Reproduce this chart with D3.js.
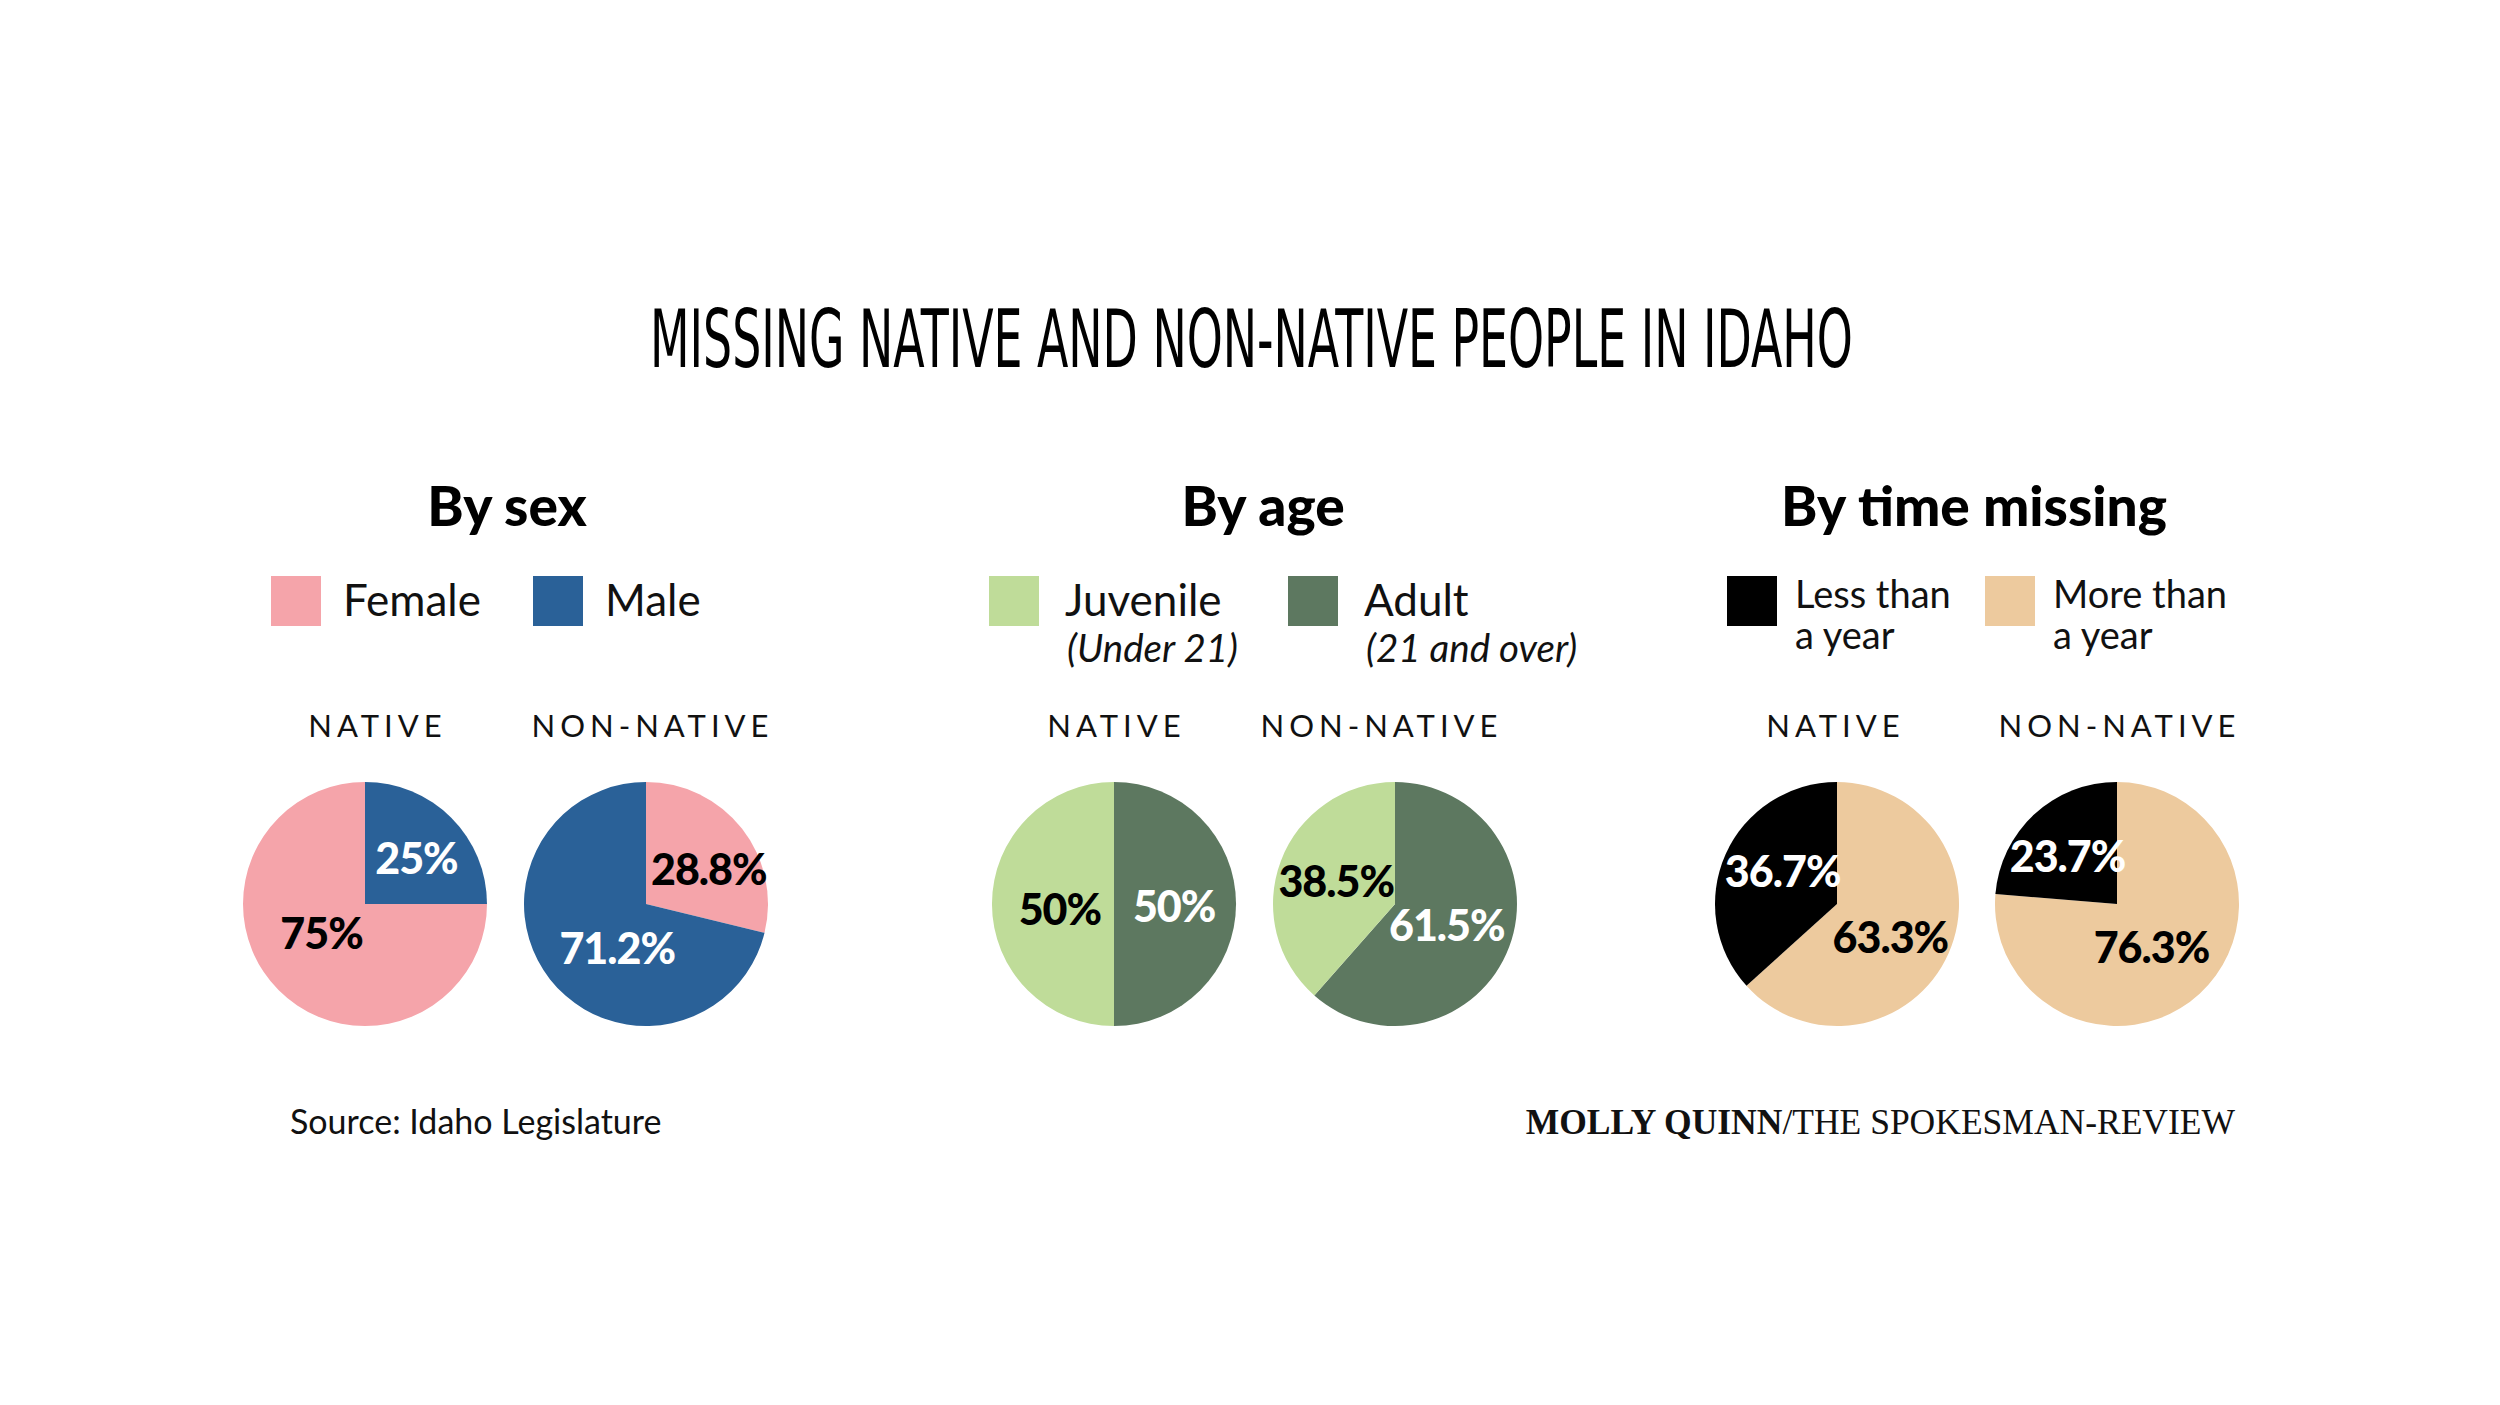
<!DOCTYPE html>
<html>
<head>
<meta charset="utf-8">
<script src="https://cdn.jsdelivr.net/npm/d3@7"></script>
<style>
  body { margin: 0; background: #fff; }
  svg { display: block; }
</style>
</head>
<body>
<div id="chart"></div>
<script>
// data
var title = "MISSING NATIVE AND NON-NATIVE PEOPLE IN IDAHO";
var groupTitles = ["By sex", "By age", "By time missing"];
var pieTitles = ["NATIVE", "NON-NATIVE"];

var sexCats = ["Female", "Male"];
var sexNative = [75, 25];
var sexNonNative = [28.8, 71.2];

var ageCats = ["Juvenile", "Adult"];
var ageNotes = ["(Under 21)", "(21 and over)"];
var ageNative = [50, 50];
var ageNonNative = [38.5, 61.5];

var timeCats = [["Less than", "a year"], ["More than", "a year"]];
var timeNative = [36.7, 63.3];
var timeNonNative = [23.7, 76.3];

var source = "Source: Idaho Legislature";
var creditName = "MOLLY QUINN";
var creditOrg = "/THE SPOKESMAN-REVIEW";

// layout
var width = 2500, height = 1405;
var r = 122;
var pieY = 904;
var boldFont = "Lato, 'Noto Sans', sans-serif";

var groups = [
  {title: groupTitles[0], cx: 507, cats: sexCats.map(c => [c]), notes: null,
   colors: ["#f5a4aa", "#2a6198"], ink: ["#000", "#fff"],
   legendX: [271, 533], legendGap: 72, legendSize: 44, legendY: [616],
   pies: [
     {x: 365, tdx: 10, values: sexNative, lead: 1, nudge: [[4, -18], [4, 2]]},
     {x: 646, tdx: 4, values: sexNonNative, lead: 0, nudge: [[10, 7], [24, 3]]}
   ]},
  {title: groupTitles[1], cx: 1263, cats: ageCats.map(c => [c]), notes: ageNotes,
   colors: ["#bfdc99", "#5d7860"], ink: ["#000", "#fff"],
   legendX: [989, 1288], legendGap: 76, legendSize: 44, legendY: [616],
   pies: [
     {x: 1114, tdx: 0, values: ageNative, lead: 1, nudge: [[13, 6], [-7, 3]]},
     {x: 1395, tdx: -16, values: ageNonNative, lead: 1, nudge: [[4, 1], [-11, -2]]}
   ]},
  {title: groupTitles[2], cx: 1974, cats: timeCats, notes: null,
   colors: ["#000000", "#edca9e"], ink: ["#fff", "#000"],
   legendX: [1727, 1985], legendGap: 68, legendSize: 38, legendY: [608, 649],
   pies: [
     {x: 1837, tdx: -4, values: timeNative, lead: 1, nudge: [[7, -5], [-8, 6]]},
     {x: 2117, tdx: 0, values: timeNonNative, lead: 1, nudge: [[-4, 2], [-11, -6]]}
   ]}
];

var svg = d3.select("#chart").append("svg")
    .attr("width", width).attr("height", height);

svg.append("rect").attr("width", width).attr("height", height).attr("fill", "#fff");

// main title: narrow face squeezed to the reference width
var titleX = 650, titleW = 1203;
var tt = svg.append("text")
    .attr("font-family", "'Liberation Sans Narrow', 'DejaVu Sans Condensed', sans-serif")
    .attr("font-size", 80)
    .attr("fill", "#000")
    .text(title);
var natural = tt.node().getComputedTextLength();
tt.attr("transform", "translate(" + titleX + ",367) scale(" + (titleW / natural) + ",1)");

var arc = d3.arc().innerRadius(0).outerRadius(r);
var labelArc = d3.arc().innerRadius(r * 0.55).outerRadius(r * 0.55);

groups.forEach(function(g) {
    var gs = svg.append("g");

    gs.append("text")
        .attr("x", g.cx).attr("y", 526)
        .attr("text-anchor", "middle")
        .attr("font-family", boldFont).attr("font-weight", 900)
        .attr("font-size", 55)
        .text(g.title);

    // legend
    g.cats.forEach(function(lines, i) {
        var lx = g.legendX[i];
        gs.append("rect")
            .attr("x", lx).attr("y", 576)
            .attr("width", 50).attr("height", 50)
            .attr("fill", g.colors[i]);
        lines.forEach(function(l, k) {
            gs.append("text")
                .attr("x", lx + g.legendGap).attr("y", g.legendY[k])
                .attr("font-family", boldFont).attr("font-weight", 400)
                .attr("font-size", g.legendSize)
                .attr("fill", "#111")
                .text(l);
        });
        if (g.notes) {
            gs.append("text")
                .attr("x", lx + g.legendGap + 2).attr("y", 662)
                .attr("font-family", boldFont).attr("font-style", "italic")
                .attr("font-size", 38.5).attr("fill", "#111")
                .text(g.notes[i]);
        }
    });

    // pies
    g.pies.forEach(function(p, j) {
        gs.append("text")
            .attr("x", p.x + p.tdx + 2.5).attr("y", 737)
            .attr("text-anchor", "middle")
            .attr("font-family", boldFont).attr("font-weight", 400)
            .attr("font-size", 31).attr("letter-spacing", 5)
            .attr("fill", "#111")
            .text(pieTitles[j]);

        // category p.lead is drawn first, clockwise from 12 o'clock
        var order = p.lead === 0 ? [0, 1] : [1, 0];
        var items = order.map(i => ({i: i, v: p.values[i]}));
        var arcs = d3.pie().sort(null).value(d => d.v)(items);

        var pg = gs.append("g").attr("transform", "translate(" + p.x + "," + pieY + ")");
        pg.selectAll("path").data(arcs).join("path")
            .attr("d", arc)
            .attr("fill", d => g.colors[d.data.i]);

        pg.selectAll("text").data(arcs).join("text")
            .attr("transform", function(d) {
                var c = labelArc.centroid(d), n = p.nudge[d.data.i];
                return "translate(" + (c[0] + n[0]) + "," + (c[1] + n[1]) + ")";
            })
            .attr("text-anchor", "middle")
            .attr("dy", "0.36em")
            .attr("font-family", boldFont).attr("font-weight", 900)
            .attr("font-size", 43).attr("letter-spacing", -1)
            .attr("fill", d => g.ink[d.data.i])
            .text(d => d3.format("")(d.data.v) + "%");
    });
});

// footer
svg.append("text")
    .attr("x", 290).attr("y", 1134)
    .attr("font-family", boldFont).attr("font-size", 34)
    .attr("fill", "#111")
    .text(source);

var credit = svg.append("text")
    .attr("x", 2235).attr("y", 1134)
    .attr("text-anchor", "end")
    .attr("font-family", "'Liberation Serif', 'DejaVu Serif', serif")
    .attr("font-size", 35.5).attr("fill", "#111");
credit.append("tspan").attr("font-weight", "bold").text(creditName);
credit.append("tspan").text(creditOrg);
</script>
</body>
</html>
